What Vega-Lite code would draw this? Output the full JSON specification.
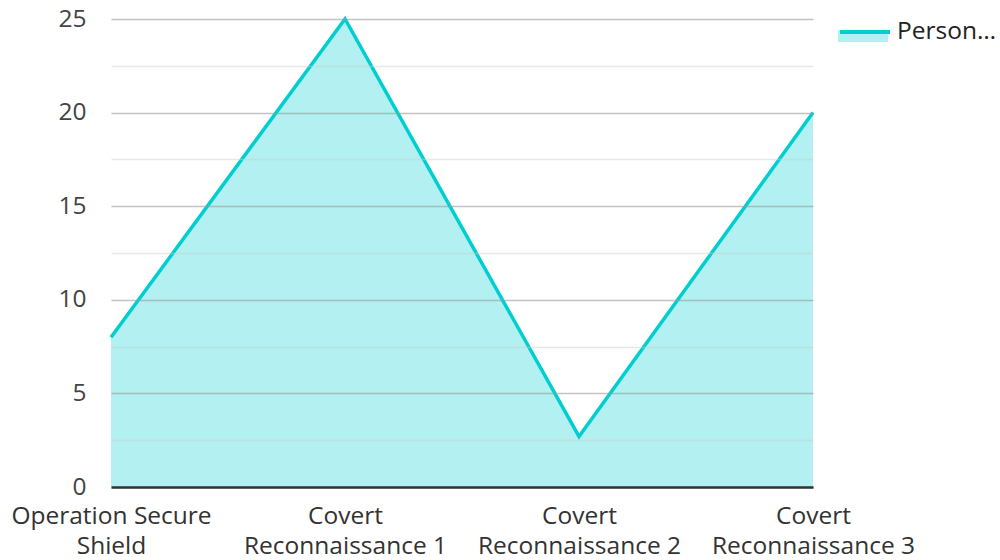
{
  "$schema": "https://vega.github.io/schema/vega-lite/v6.json",
  "width": 702,
  "height": 468,
  "autosize": {"type": "none"},
  "padding": {"left": 111, "top": 19, "right": 187, "bottom": 73},
  "background": "white",
  "config": {
    "font": "Open Sans",
    "view": {"stroke": null}
  },
  "data": {
    "values": [
      {"operation": "Operation Secure Shield", "value": 8, "series": "Personnel Deployed"},
      {"operation": "Covert Reconnaissance 1", "value": 25, "series": "Personnel Deployed"},
      {"operation": "Covert Reconnaissance 2", "value": 2.7, "series": "Personnel Deployed"},
      {"operation": "Covert Reconnaissance 3", "value": 20, "series": "Personnel Deployed"}
    ]
  },
  "encoding": {
    "x": {
      "field": "operation",
      "type": "ordinal",
      "sort": null,
      "scale": {"type": "point", "padding": 0},
      "axis": {
        "title": null,
        "labelAngle": 0,
        "labelFontSize": 24.5,
        "labelColor": "#333333",
        "labelLineHeight": 30,
        "labelPadding": 29,
        "labelBaseline": "middle",
        "labelLimit": 400,
        "labelOverlap": false,
        "labelExpr": "indexof(datum.label, 'Covert') === 0 ? ['Covert', substring(datum.label, 7)] : ['Operation Secure', 'Shield']",
        "ticks": false,
        "grid": false,
        "domain": true,
        "domainColor": "#333333",
        "domainWidth": 2.5,
        "zindex": 2
      }
    },
    "y": {
      "field": "value",
      "type": "quantitative",
      "scale": {"domain": [0, 25], "nice": false},
      "axis": {
        "title": null,
        "values": [0, 2.5, 5, 7.5, 10, 12.5, 15, 17.5, 20, 22.5, 25],
        "labelExpr": "datum.value % 5 === 0 ? datum.label : ''",
        "labelFontSize": 24.5,
        "labelColor": "#444444",
        "labelPadding": 25,
        "ticks": false,
        "domain": false,
        "grid": true,
        "gridColor": {"condition": {"test": "datum.value % 5 === 0", "value": "#999999"}, "value": "#cccccc"},
        "gridOpacity": {"condition": {"test": "datum.value % 5 === 0", "value": 0.6}, "value": 0.45},
        "gridWidth": 1.5,
        "zindex": 1
      }
    }
  },
  "layer": [
    {
      "mark": {"type": "area", "opacity": 0.3, "color": "#00CED1"},
      "encoding": {
        "fill": {
          "field": "series",
          "type": "nominal",
          "scale": {"range": ["#00CED1"]},
          "legend": {
            "orient": "none",
            "legendX": 727,
            "legendY": -14,
            "title": null,
            "symbolType": "M-1,0H1V0.48H-1Z",
            "symbolSize": 2500,
            "symbolOpacity": 0.3,
            "symbolStrokeWidth": 0,
            "labelExpr": "''",
            "labelFontSize": 24.5
          }
        }
      }
    },
    {
      "mark": {"type": "line", "color": "#00CED1", "strokeWidth": 3.5},
      "encoding": {
        "stroke": {
          "field": "series",
          "type": "nominal",
          "scale": {"range": ["#00CED1"]},
          "legend": {
            "orient": "none",
            "legendX": 727,
            "legendY": -14,
            "title": null,
            "symbolType": "stroke",
            "symbolSize": 2500,
            "symbolStrokeWidth": 4,
            "labelFontSize": 24.5,
            "labelColor": "#222222",
            "labelLimit": 100,
            "labelOffset": 5
          }
        }
      }
    }
  ]
}
